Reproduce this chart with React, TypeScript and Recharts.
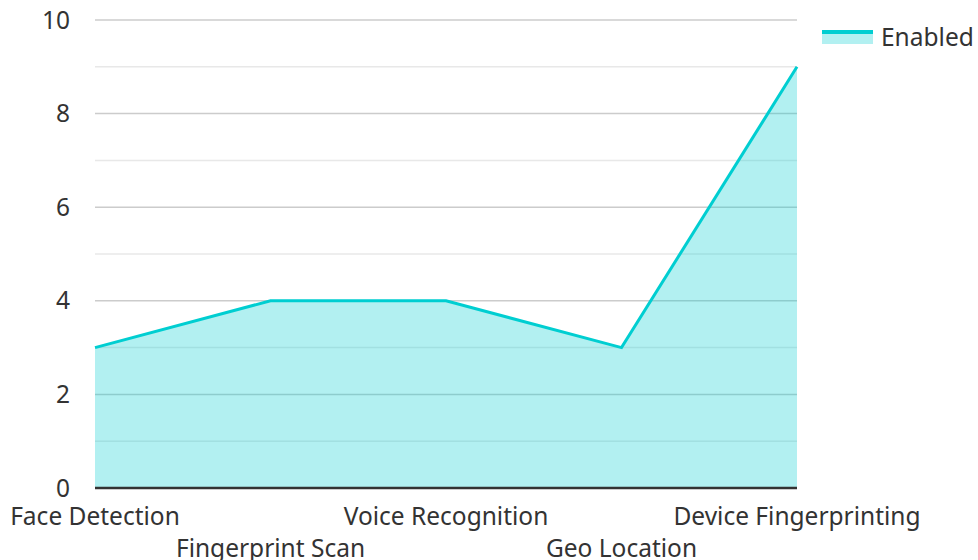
import { AreaChart, Area, XAxis, YAxis, CartesianGrid } from 'recharts';

const categories = ['Face Detection', 'Fingerprint Scan', 'Voice Recognition', 'Geo Location', 'Device Fingerprinting'];
const enabled = [3, 4, 4, 3, 9];
const majorTicks = [0, 2, 4, 6, 8, 10];
const minorTicks = [1, 3, 5, 7, 9];

const data = categories.map((name, i) => ({ name, enabled: enabled[i] }));

const TEXT = '#333333';
const TEAL = '#00CED1';
const FONT_SIZE = 24.5;

function StaggeredTick({ x, y, payload, index }: any) {
  return (
    <text
      x={x}
      y={y + (index % 2 ? 32 : 0)}
      dy="0.71em"
      textAnchor="middle"
      fill={TEXT}
      fontSize={FONT_SIZE}
    >
      {payload.value}
    </text>
  );
}

export default function App() {
  return (
    <div style={{ position: 'absolute', left: 0, top: 0, width: 978, height: 560, fontFamily: '"Noto Sans", sans-serif' }}>
      <AreaChart width={978} height={560} data={data} margin={{ top: 20, right: 181, bottom: 0, left: 0 }}>
        <CartesianGrid yAxisId="main" vertical={false} horizontalValues={minorTicks} stroke="#e8e8e8" strokeWidth={1.5} />
        <CartesianGrid yAxisId="main" vertical={false} stroke="#cccccc" strokeWidth={1.5} />
        <XAxis
          dataKey="name"
          interval={0}
          height={72}
          tickSize={0}
          tickMargin={20}
          tick={<StaggeredTick />}
          axisLine={{ stroke: '#333333', strokeWidth: 2.5 }}
          tickLine={false}
        />
        <YAxis
          yAxisId="main"
          width={95}
          domain={[0, 10]}
          ticks={majorTicks}
          tickSize={0}
          tickMargin={25}
          axisLine={false}
          tickLine={false}
          tick={{ fill: TEXT, fontSize: FONT_SIZE }}
        />
        <Area
          yAxisId="main"
          type="linear"
          dataKey="enabled"
          name="Enabled"
          stroke={TEAL}
          strokeWidth={3}
          fill={TEAL}
          fillOpacity={0.3}
          dot={false}
          activeDot={false}
          isAnimationActive={false}
        />
      </AreaChart>
      <div style={{ position: 'absolute', left: 822, top: 20, display: 'flex', alignItems: 'center', color: TEXT, fontSize: FONT_SIZE }}>
        <svg width={51} height={14} style={{ marginRight: 8 }}>
          <rect x={0} y={0} width={51} height={14} fill={TEAL} fillOpacity={0.3} />
          <rect x={0} y={0} width={51} height={4} fill={TEAL} />
        </svg>
        <span>Enabled</span>
      </div>
    </div>
  );
}
